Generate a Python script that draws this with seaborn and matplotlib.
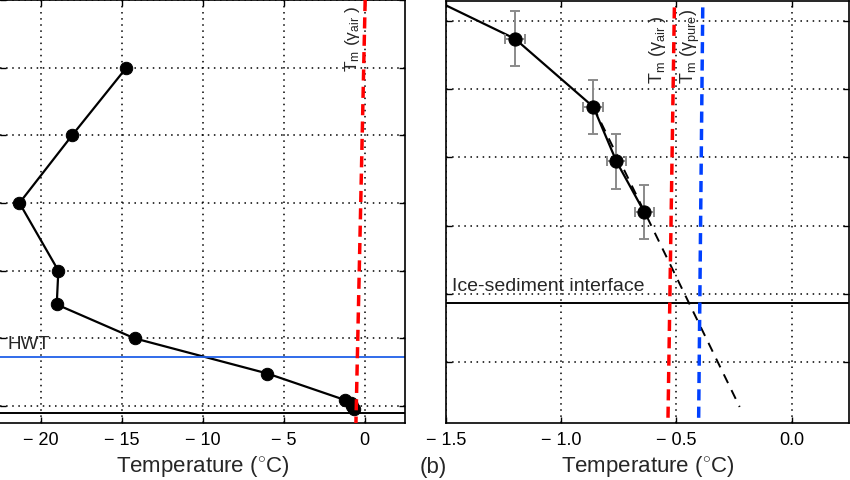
import numpy as np
import pandas as pd
import matplotlib
matplotlib.use("Agg")
import matplotlib.pyplot as plt
import seaborn as sns
from matplotlib.ticker import FuncFormatter

# Temperature profile (depth in m below ice surface)
profile_temp = [-14.7, -18.05, -21.3, -18.9, -19.0, -14.2, -6.0, -1.2, -0.86, -0.76, -0.64]
profile_depth = [1.0, 2.0, 3.0, 4.0, 4.5, 5.0, 5.52, 5.913, 5.963, 6.003, 6.040]

# near-bed points with error bars (panel b)
bed_temp = [-1.2, -0.86, -0.76, -0.64]
bed_depth = [5.913, 5.963, 6.003, 6.040]
bed_xerr = [0.045, 0.043, 0.041, 0.041]
bed_yerr = [0.020, 0.020, 0.020, 0.020]

# linear fit extension below the lowest points
fit_temp = [-0.86, -0.226]
fit_depth = [5.963, 6.183]

# melting temperatures
tm_air_temp_a = [0.03, -0.54]
tm_depth_a = [0.0, 6.256]
tm_air_temp_b = [-0.509, -0.537]
tm_pure_temp_b = [-0.386, -0.404]
tm_depth_b = [5.89, 6.195]

hwt_depth = 5.28
interface_depth = 6.107

sns.set_theme(style="white")
plt.rcParams["font.family"] = ["Liberation Sans", "DejaVu Sans"]
plt.rcParams["mathtext.fontset"] = "custom"
plt.rcParams["mathtext.rm"] = "Liberation Sans"
plt.rcParams["mathtext.it"] = "Liberation Sans:italic"

fig = plt.figure(figsize=(8.5, 4.8), dpi=100)
ax1 = fig.add_axes([0.0, 0.1181, 0.4767, 0.8819])
ax2 = fig.add_axes([0.5244, 0.1181, 0.4750, 0.8807])

grid_kw = dict(color="black", linestyle=(0, (1, 3)), linewidth=1.1)


def minus_fmt(fmt):
    def f(v, p):
        s = format(abs(v), fmt)
        return "\u2212 " + s if v < -1e-9 else s
    return FuncFormatter(f)


label_air = "T$_\\mathrm{m}$ (\u03b3$_\\mathrm{air}$ )"
label_pure = "T$_\\mathrm{m}$ (\u03b3$_\\mathrm{pure}$)"

prof = pd.DataFrame({"temp": profile_temp, "depth": profile_depth})

# ---- panel a ----
sns.lineplot(data=prof, x="temp", y="depth", sort=False, estimator=None,
             color="black", linewidth=1.6, ax=ax1)
sns.scatterplot(data=prof, x="temp", y="depth", color="black", s=80,
                edgecolor="black", zorder=5, ax=ax1)
ax1.plot(tm_air_temp_a, tm_depth_a, color="#ff0000", linewidth=2.5,
         dashes=(3.2, 1.8), zorder=6)
ax1.axhline(hwt_depth, color="#2060e8", linewidth=1.3)
ax1.axhline(interface_depth, color="black", linewidth=1.4)
ax1.text(-22.05, 5.215, "HWT", fontsize=13.5, ha="left", va="bottom")
ax1.text(-0.75, 1.07, label_air, fontsize=12.5,
         rotation=90, ha="center", va="bottom")
ax1.set_xlim(-22.5, 2.5)
ax1.set_ylim(6.256, 0.0)
ax1.set_xticks([-20, -15, -10, -5, 0])
ax1.set_yticks([0, 1, 2, 3, 4, 5, 6])
ax1.xaxis.set_major_formatter(minus_fmt("g"))
ax1.spines["left"].set_visible(False)

# ---- panel b ----
sns.lineplot(data=prof, x="temp", y="depth", sort=False, estimator=None,
             color="black", linewidth=1.6, ax=ax2)
ax2.plot(fit_temp, fit_depth, color="black", linewidth=1.4, dashes=(5, 4))
ax2.errorbar(bed_temp, bed_depth, xerr=bed_xerr, yerr=bed_yerr, fmt="none",
             ecolor="#8a8a8a", elinewidth=1.4, capsize=3.5, capthick=1.4, zorder=4)
sns.scatterplot(x=bed_temp, y=bed_depth, color="black", s=90,
                edgecolor="black", zorder=5, ax=ax2)
ax2.plot(tm_air_temp_b, tm_depth_b, color="#ff0000", linewidth=2.5,
         dashes=(3.2, 1.8), zorder=6)
ax2.plot(tm_pure_temp_b, tm_depth_b, color="#0040ff", linewidth=2.5,
         dashes=(3.2, 1.8), zorder=6)
ax2.axhline(interface_depth, color="black", linewidth=1.4)
ax2.text(-1.475, 6.101, "Ice-sediment interface", fontsize=14, ha="left", va="bottom")
ax2.text(-0.58, 5.946, label_air, fontsize=13,
         rotation=90, ha="center", va="bottom")
ax2.text(-0.438, 5.946, label_pure, fontsize=13,
         rotation=90, ha="center", va="bottom")
ax2.set_xlim(-1.5, 0.25)
ax2.set_ylim(6.195, 5.885)
ax2.set_xticks([-1.5, -1.0, -0.5, 0.0])
ax2.set_yticks([5.90, 5.95, 6.00, 6.05, 6.10, 6.15])
ax2.xaxis.set_major_formatter(minus_fmt(".1f"))

for ax in (ax1, ax2):
    ax.grid(True, **grid_kw)
    ax.set_axisbelow(True)
    ax.tick_params(direction="in", length=4, width=1, top=True, right=True,
                   bottom=True, left=True, labelsize=13, pad=6, colors="black")
    ax.tick_params(axis="y", labelleft=False)
    for sp in ax.spines.values():
        sp.set_color("black")
        sp.set_linewidth(1.2)
    ax.set_xlabel("Temperature ($^{\\circ}$C)", fontsize=16, labelpad=4)
    ax.set_ylabel("")

fig.text(0.494, 0.004, "(b)", fontsize=16, ha="left", va="bottom")

fig.savefig("out.png", dpi=100)
